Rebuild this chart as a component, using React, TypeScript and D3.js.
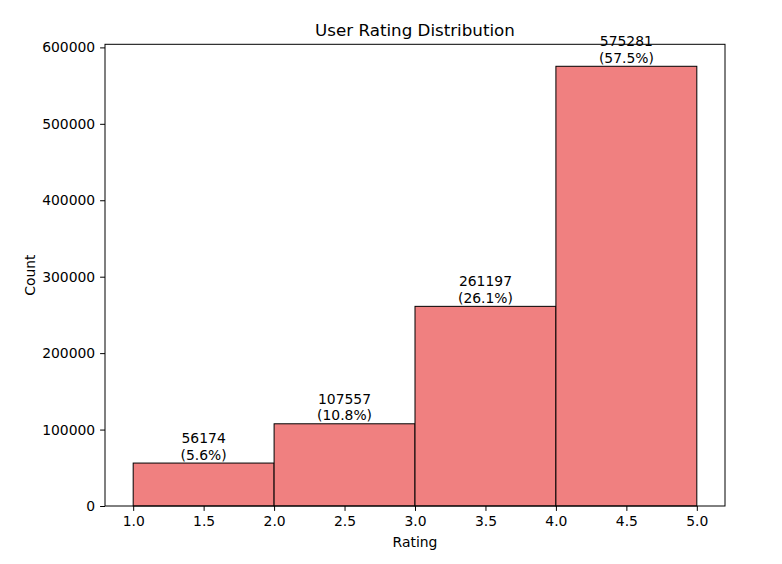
import React, { useEffect, useRef } from "react";
import * as d3 from "d3";

const binEdges = [1.0, 2.0, 3.0, 4.0, 5.0];
const counts = [56174, 107557, 261197, 575281];
const xTicks = [1.0, 1.5, 2.0, 2.5, 3.0, 3.5, 4.0, 4.5, 5.0];
const yTicks = [0, 100000, 200000, 300000, 400000, 500000, 600000];
const title = "User Rating Distribution";
const xLabel = "Rating";
const yLabel = "Count";

const W = 782;
const H = 564;
const M = { left: 105, right: 725, top: 44.3, bottom: 506 };
const FONT = "DejaVu Sans, sans-serif";

export default function App() {
  const ref = useRef<SVGSVGElement | null>(null);

  useEffect(() => {
    const svg = d3.select(ref.current);
    svg.selectAll("*").remove();

    const x = d3.scaleLinear().domain([0.8, 5.2]).range([M.left, M.right]);
    const yMax = d3.max(counts)! * 1.05;
    const y = d3.scaleLinear().domain([0, yMax]).range([M.bottom, M.top]);
    const total = d3.sum(counts);

    svg.append("rect").attr("x", 0).attr("y", 0).attr("width", W).attr("height", H).attr("fill", "white");

    const bars = counts.map((c, i) => ({ x0: binEdges[i], x1: binEdges[i + 1], c }));

    svg
      .append("g")
      .selectAll("rect")
      .data(bars)
      .join("rect")
      .attr("x", (d) => x(d.x0))
      .attr("y", (d) => y(d.c))
      .attr("width", (d) => x(d.x1) - x(d.x0))
      .attr("height", (d) => y(0) - y(d.c))
      .attr("fill", "#F08080")
      .attr("stroke", "black")
      .attr("stroke-width", 1);

    // bar labels
    const lbl = svg.append("g").attr("font-family", FONT).attr("font-size", 13.9).attr("fill", "black");
    bars.forEach((d) => {
      const cx = x((d.x0 + d.x1) / 2);
      const top = y(d.c);
      const t = lbl.append("text").attr("text-anchor", "middle");
      t.append("tspan").attr("x", cx).attr("y", top - 20).text(String(d.c));
      t.append("tspan")
        .attr("x", cx)
        .attr("y", top - 3.5)
        .text(`(${((d.c / total) * 100).toFixed(1)}%)`);
    });

    // axes frame
    svg
      .append("rect")
      .attr("x", M.left)
      .attr("y", M.top)
      .attr("width", M.right - M.left)
      .attr("height", M.bottom - M.top)
      .attr("fill", "none")
      .attr("stroke", "black")
      .attr("stroke-width", 1);

    const xAxis = d3
      .axisBottom(x)
      .tickValues(xTicks)
      .tickFormat((d) => d3.format(".1f")(d as number))
      .tickSize(4.9)
      .tickPadding(4.9);
    const gx = svg.append("g").attr("transform", `translate(0,${M.bottom})`).call(xAxis);
    gx.select(".domain").remove();
    gx.selectAll("text").attr("font-family", FONT).attr("font-size", 13.9).attr("fill", "black");
    gx.selectAll("line").attr("stroke", "black");

    const yAxis = d3
      .axisLeft(y)
      .tickValues(yTicks)
      .tickFormat((d) => String(d))
      .tickSize(4.9)
      .tickPadding(4.9);
    const gy = svg.append("g").attr("transform", `translate(${M.left},0)`).call(yAxis);
    gy.select(".domain").remove();
    gy.selectAll("text").attr("font-family", FONT).attr("font-size", 13.9).attr("fill", "black");
    gy.selectAll("line").attr("stroke", "black");

    svg
      .append("text")
      .attr("x", (M.left + M.right) / 2)
      .attr("y", 36)
      .attr("text-anchor", "middle")
      .attr("font-family", FONT)
      .attr("font-size", 16.7)
      .text(title);

    svg
      .append("text")
      .attr("x", (M.left + M.right) / 2)
      .attr("y", 547)
      .attr("text-anchor", "middle")
      .attr("font-family", FONT)
      .attr("font-size", 13.9)
      .text(xLabel);

    svg
      .append("text")
      .attr("transform", `translate(35,${(M.top + M.bottom) / 2}) rotate(-90)`)
      .attr("text-anchor", "middle")
      .attr("font-family", FONT)
      .attr("font-size", 13.9)
      .text(yLabel);
  }, []);

  return (
    <svg
      ref={ref}
      width={W}
      height={H}
      style={{ position: "absolute", left: 0, top: 0, display: "block" }}
    />
  );
}
